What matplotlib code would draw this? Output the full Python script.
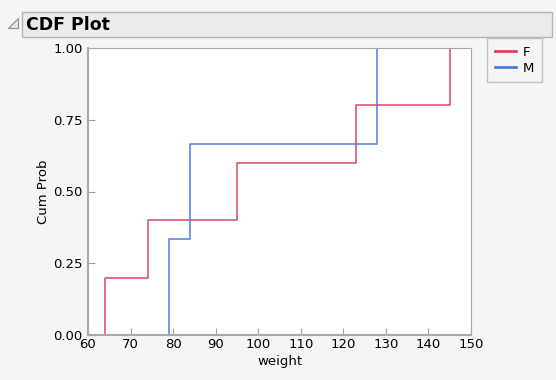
import matplotlib.pyplot as plt
from matplotlib.patches import Rectangle, Polygon
import numpy as np

# weights by sex
weight_f = [64, 74, 95, 123, 145]
weight_m = [79, 84, 128]
series = ["F", "M"]
colours = {"F": "#d9485f", "M": "#4b7be5"}

xticks = [60, 70, 80, 90, 100, 110, 120, 130, 140, 150]
yticks = [0.0, 0.25, 0.5, 0.75, 1.0]

bg = "#f5f5f5"
fig = plt.figure(figsize=(5.56, 3.80), dpi=100, facecolor=bg)

# header bar
fig.patches.append(Rectangle((22 / 556, 1 - 37 / 380), 530 / 556, 25 / 380,
                             transform=fig.transFigure, facecolor="#ebebeb",
                             edgecolor="#b4b4b4", lw=1))
fig.patches.append(Polygon([[8 / 556, 1 - 28 / 380], [18 / 556, 1 - 28 / 380], [18 / 556, 1 - 18 / 380]],
                           closed=True, transform=fig.transFigure,
                           facecolor="#e8e8e8", edgecolor="#8a8a8a", lw=0.8))
fig.text(26 / 556, 1 - 25 / 380, "CDF Plot", fontsize=12.5, fontweight="bold",
         va="center", ha="left", family="DejaVu Sans")

ax = fig.add_axes([88 / 556, 1 - 335 / 380, 383 / 556, 287 / 380])
ax.set_facecolor("white")


def cdf_steps(vals):
    v = np.sort(vals)
    n = len(v)
    xs = [v[0]]
    ys = [0.0]
    for i, x in enumerate(v):
        xs += [x, x]
        ys += [i / n, (i + 1) / n]
        if i + 1 < n:
            xs.append(v[i + 1])
            ys.append((i + 1) / n)
    return xs, ys


for name, vals in zip(series, [weight_f, weight_m]):
    xs, ys = cdf_steps(vals)
    ax.plot(xs, ys, color=colours[name], lw=1.1, label=name)

ax.set_xlim(60, 150)
ax.set_ylim(0, 1)
ax.set_xticks(xticks)
ax.set_yticks(yticks)
ax.set_yticklabels([f"{t:.2f}" for t in yticks])
ax.tick_params(direction="in", length=5, color="#a0a0a0", labelsize=9.5, pad=2)
ax.tick_params(axis="y", pad=4)
for side in ["left", "bottom"]:
    ax.spines[side].set_color("#a8a8a8")
    ax.spines[side].set_linewidth(1.5)
for side in ["top", "right"]:
    ax.spines[side].set_color("#a8a8a8")
    ax.spines[side].set_linewidth(0.8)
ax.set_xlabel("weight", fontsize=9.5, labelpad=3)
ax.set_ylabel("Cum Prob", fontsize=9.5, labelpad=2)

leg = fig.legend(loc="upper left", bbox_to_anchor=(487 / 556, 1 - 38 / 380),
                 borderaxespad=0, fontsize=9.5, handlelength=1.6,
                 handletextpad=0.5, borderpad=0.6, labelspacing=0.2,
                 fancybox=False, frameon=True)
leg.get_frame().set_edgecolor("#b4b4b4")
leg.get_frame().set_facecolor(bg)
for line in leg.get_lines():
    line.set_linewidth(2)

fig.savefig("out.png", dpi=100, facecolor=bg)
